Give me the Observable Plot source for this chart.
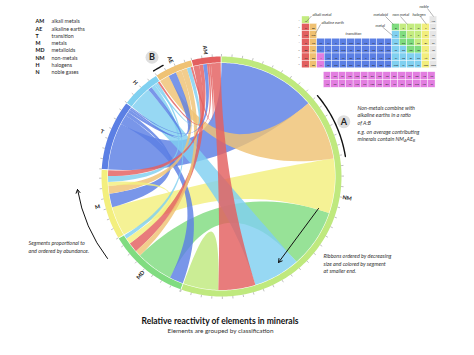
<!DOCTYPE html>
<html><head><meta charset="utf-8">
<script src="https://cdn.jsdelivr.net/npm/d3@7"></script>
<script src="https://cdn.jsdelivr.net/npm/@observablehq/plot@0.6"></script>
<style>body{margin:0;background:#fff;} #chart{width:474px;height:355px;}</style>
</head><body><div id="chart"></div>
<script>
// ---------- DATA ----------
const groups = ["NM","MD","M","T","H","AE","AM"];
const groupColors = ["#bfe97e","#80dc80","#f3ef7e","#5b7fe4","#80d0f0","#efc274","#e35f5f"];
// ribbons: group A, group B, width at A end, width at B end (units ~ degrees)
const ribbonA = ["NM","NM","NM","NM","NM","NM","NM","MD","MD","MD","MD","MD","M","M","M","M","T","T","T","H","H","AE"];
const ribbonB = ["T","AE","M","MD","H","AM","NM","T","AE","AM","M","H","T","AE","H","AM","AE","H","AM","AE","AM","AM"];
const widthA  = [50,31,28,30,24,19,18,7,3,5,3,2,7,4,3,3,1.5,1,0.5,1,1,1];
const widthB  = [24,5,15,19,12,5,18,5,3,3,2,1,2,3,2,2,4,2,2,2,1,1];
// clockwise order of ribbons inside each segment
const subgroupOrder = {
  NM: ["T","AE","M","MD","H","AM","NM"],
  MD: ["T","NM","AE","AM","M","H"],
  M:  ["NM","T","AE","MD","H","AM"],
  T:  ["NM","MD","M","AE","H","AM"],
  H:  ["NM","T","M","AE","MD","AM"],
  AE: ["NM","T","M","MD","H","AM"],
  AM: ["MD","M","T","H","AE","NM"]
};
const legendAbbr = ["AM","AE","T","M","MD","NM","H","N"];
const legendName = ["alkali metals","alkaline earths","transition","metals","metalloids","non-metals","halogens","noble gases"];
const noteA = ["Non-metals combine with","alkaline earths in a ratio","of A:B","e.g. on average contributing","minerals contain NM_A AE_B"];
const noteLeft = ["Segments proportional to","and ordered by abundance."];
const noteRight = ["Ribbons ordered by decreasing","size and colored by segment","at smaller end."];
const title = "Relative reactivity of elements in minerals";
const subtitle = "Elements are grouped by classification";
// periodic table
const ptRows = ["n................g","ae..........dnnnhg","ae..........mdnnhg","aettttttttttmddnhg","aettttttttttmmddhg","aelttttttttttmmmmhg".slice(0,3)+"tttttttttmmmmhg","ael"+"tttttttttmmmmhg"];
const ptSymbols = [
 "H . . . . . . . . . . . . . . . . He",
 "Li Be . . . . . . . . . . B C N O F Ne",
 "Na Mg . . . . . . . . . . Al Si P S Cl Ar",
 "K Ca Sc Ti V Cr Mn Fe Co Ni Cu Zn Ga Ge As Se Br Kr",
 "Rb Sr Y Zr Nb Mo Tc Ru Rh Pd Ag Cd In Sn Sb Te I Xe",
 "Cs Ba * Hf Ta W Re Os Ir Pt Au Hg Tl Pb Bi Po At Rn",
 "Fr Ra ** Rf Db Sg Bh Hs Mt Ds Rg Cn Uut Fl Uup Lv Uus Uuo"];
const lanthRows = ["La Ce Pr Nd Pm Sm Eu Gd Tb Dy Ho Er Tm Yb Lu","Ac Th Pa U Np Pu Am Cm Bk Cf Es Fm Md No Lr"];
const ptColors = {a:"#e26060",e:"#efc070",t:"#5b7fe4",m:"#80d0f0",d:"#7fdc7f",n:"#c4ec80",h:"#f2ee7c",g:"#e6e6e6",l:"#e27ee0"};
const ptLabels = ["alkali metal","alkaline earth","transition","metaloid","non metal","halogen","noble","metal"];

// ---------- LAYOUT ----------
const cx = 221, cy = 176, rIn = 113.5, ring0 = 114, ring1 = 120;
const deg = Math.PI/180;
const P = (a, r) => [cx + r*Math.sin(a*deg), cy - r*Math.cos(a*deg)];
const gIndex = g => groups.indexOf(g);
const totals = groups.map(g => d3.sum(ribbonA.map((a,i) => (a===g ? widthA[i] : 0) + (ribbonB[i]===g && a!==g ? widthB[i] : 0))));
const pad = 0.4;
const k = (360 - pad*groups.length)/d3.sum(totals);
const ends = {}; const groupArcs = [];
let ang = 0;
groups.forEach((g, gi) => {
  const start = ang;
  subgroupOrder[g].forEach(p => {
    const i = ribbonA.findIndex((a,j) => (a===g && ribbonB[j]===p) || (a===p && ribbonB[j]===g));
    if (ribbonA[i]===ribbonB[i]) { const w = widthA[i]*k; ends[i+"A"]=[ang,ang+w/2]; ends[i+"B"]=[ang+w/2,ang+w]; ang+=w; }
    else { const side = ribbonA[i]===g ? "A" : "B"; const w = (side==="A"?widthA:widthB)[i]*k; ends[i+side]=[ang,ang+w]; ang+=w; }
  });
  groupArcs.push({g, gi, start, end: ang});
  ang += pad;
});
const arcPts = (a0,a1,r) => { const n = Math.max(2, Math.ceil(Math.abs(a1-a0))); return d3.range(n+1).map(i => P(a0+(a1-a0)*i/n, r)); };
const quadPts = (p0,p1) => d3.range(1,30).map(i => { const t=i/30,u=1-t; return [u*u*p0[0]+2*u*t*cx+t*t*p1[0], u*u*p0[1]+2*u*t*cy+t*t*p1[1]]; });
const ribbonPts = [];
const ribbonIdx = d3.range(ribbonA.length).sort((i,j) => (widthA[j]+widthB[j]) - (widthA[i]+widthB[i]));
ribbonIdx.forEach(i => {
  const [s0,s1] = ends[i+"A"], [t0,t1] = ends[i+"B"];
  let cg;
  if (widthA[i] < widthB[i]) cg = ribbonA[i]; else if (widthB[i] < widthA[i]) cg = ribbonB[i];
  else cg = totals[gIndex(ribbonA[i])] < totals[gIndex(ribbonB[i])] ? ribbonA[i] : ribbonB[i];
  const color = groupColors[gIndex(cg)];
  const pts = [...arcPts(s0,s1,rIn), ...quadPts(P(s1,rIn),P(t0,rIn)), ...arcPts(t0,t1,rIn), ...quadPts(P(t1,rIn),P(s0,rIn))];
  pts.forEach(([x,y]) => ribbonPts.push({id:i, x, y, color}));
});
const ringPts = [];
groupArcs.forEach(d => {
  [...arcPts(d.start,d.end,ring1), ...arcPts(d.end,d.start,ring0)].forEach(([x,y]) => ringPts.push({id:d.g, x, y, color: groupColors[d.gi]}));
});
const ticks = [];
groupArcs.forEach(d => { for (let a = d.start; a <= d.end+0.01; a += 5*k) { const [x1,y1]=P(a,ring1),[x2,y2]=P(a,ring1+2.5); ticks.push({x1,y1,x2,y2}); } });
const labels = groupArcs.map(d => { const m=(d.start+d.end)/2; const [x,y]=P(m,127.5); return {x,y,text:d.g,rotate: m<180 ? m-90 : m-270}; });
// brackets A / B from the NM–AE ribbon ends
const iAE = 1;
const bracketPts = [];
[["A",ends[iAE+"A"]],["B",ends[iAE+"B"]]].forEach(([id,[a0,a1]]) => arcPts(a0,a1,125.5).forEach(([x,y]) => bracketPts.push({id,x,y})));
const markers = [["A",ends[iAE+"A"],134],["B",ends[iAE+"B"],138]].map(([t,[a0,a1],r]) => { const [x,y]=P((a0+a1)/2+ (t==="A"?0.5:0), r); return {x,y,t}; });

// periodic table cells
const cw = 7.5, rh = 7.4, px0 = 301.7, py0 = 16;
const cells = [];
ptRows.forEach((row, r) => { const syms = ptSymbols[r].split(" "); [...row].forEach((c, col) => { if (c !== ".") cells.push({x1:px0+col*cw, x2:px0+(col+1)*cw, y1:py0+r*rh, y2:py0+(r+1)*rh, fill:ptColors[c], s: syms[col]}); }); });
lanthRows.forEach((row, r) => row.split(" ").forEach((s, col) => cells.push({x1:323.3+col*7.45, x2:323.3+(col+1)*7.45, y1:71.7+r*7.8, y2:71.7+(r+1)*7.8, fill:ptColors.l, s})));
const ptLabelPos = [[312,14],[321,22.5],[345,33.5],[373,14.5],[392,14.5],[412,14.5],[419,6.5],[375,25]];
const ptLeaders = [[311,15.5,306,21],[320,24,315,33],null,[385,16,393,24],[400,16,407,24],[420,16,426,24],[427,8,433,16],[382,26.5,392,35]].filter(d=>d).map(([x1,y1,x2,y2])=>({x1,y1,x2,y2}));

const font = "Lato, 'Open Sans', sans-serif";
const chart = Plot.plot({
  width: 474, height: 355, margin: 0,
  x: {domain:[0,474], range:[0,474], axis:null},
  y: {domain:[0,355], range:[0,355], axis:null},
  color: {type:"identity"},
  style: {fontFamily: font, background:"#fff"},
  marks: [
    Plot.line(ribbonPts, {x:"x", y:"y", z:"id", fill:"color", fillOpacity:0.82, stroke:"none"}),
    Plot.line(ringPts, {x:"x", y:"y", z:"id", fill:"color", stroke:"none"}),
    Plot.link(ticks, {x1:"x1", y1:"y1", x2:"x2", y2:"y2", stroke:"#999", strokeWidth:0.6}),
    Plot.text(labels, {x:"x", y:"y", text:"text", rotate:"rotate", fontSize:5.5, fontWeight:"bold", fill:"#222"}),
    Plot.line(bracketPts, {x:"x", y:"y", z:"id", stroke:"#111", strokeWidth:1.4}),
    Plot.dot(markers, {x:"x", y:"y", r:6.5, fill:"#dedede", stroke:"none"}),
    Plot.text(markers, {x:"x", y:"y", text:"t", fontSize:9, fontWeight:"bold", fill:"#222"}),
    Plot.arrow([{x1:107,y1:258,x2:77,y2:189}], {x1:"x1",y1:"y1",x2:"x2",y2:"y2", bend:14, stroke:"#111", strokeWidth:1, headLength:6}),
    Plot.arrow([{x1:318,y1:208,x2:278,y2:262}], {x1:"x1",y1:"y1",x2:"x2",y2:"y2", stroke:"#111", strokeWidth:1, headLength:6}),
    // legend
    Plot.text(legendAbbr, {x:35, y:(d,i)=>21+i*7.3, text:d=>d, textAnchor:"start", fontSize:5.3, fontWeight:"bold", fill:"#111"}),
    Plot.text(legendName, {x:51, y:(d,i)=>21+i*7.3, text:d=>d, textAnchor:"start", fontSize:5.3, fill:"#333"}),
    // notes
    Plot.text(noteA, {x:357, y:(d,i)=>108+i*7.2+(i>=3?1.8:0), text:d=>d, textAnchor:"start", fontSize:5.4, fontStyle:"italic", fill:"#333"}),
    Plot.text(noteLeft, {x:28, y:(d,i)=>243+i*7.4, text:d=>d, textAnchor:"start", fontSize:5.4, fontStyle:"italic", fill:"#333"}),
    Plot.text(noteRight, {x:323, y:(d,i)=>256+i*7.5, text:d=>d, textAnchor:"start", fontSize:5.4, fontStyle:"italic", fill:"#333"}),
    Plot.text([title], {x:219.5, y:320, text:d=>d, fontSize:9.4, fontWeight:"bold", fill:"#111", className:"ttl"}),
    Plot.text([subtitle], {x:220, y:330.5, text:d=>d, fontSize:5.8, fill:"#333", className:"sub"}),
    // periodic table
    Plot.rect(cells, {x1:"x1", x2:"x2", y1:"y1", y2:"y2", fill:"fill", stroke:"#fff", strokeWidth:0.4}),
    Plot.text(cells, {x:d=>(d.x1+d.x2)/2, y:d=>(d.y1+d.y2)/2+0.5, text:"s", fontSize:2.6, fontWeight:"bold", fill:"#333"}),
    Plot.text(d3.range(1,8), {x:298.5, y:d=>py0+(d-0.5)*rh, text:d=>d, fontSize:2.6, fill:"#777"}),
    Plot.link(ptLeaders, {x1:"x1",y1:"y1",x2:"x2",y2:"y2", stroke:"#444", strokeWidth:0.4}),
    Plot.text(ptLabels, {x:(d,i)=>ptLabelPos[i][0], y:(d,i)=>ptLabelPos[i][1], text:d=>d, textAnchor:"start", fontSize:4, fontStyle:"italic", fill:"#333"})
  ]
});
document.getElementById("chart").appendChild(chart);
// condensed title widths like the reference
[["ttl",157],["sub",106]].forEach(([c,w]) => chart.querySelectorAll("g."+c+" text").forEach(t => { t.setAttribute("textLength", w); t.setAttribute("lengthAdjust","spacingAndGlyphs"); }));
// subscripts in the note
chart.querySelectorAll("text").forEach(t => {
  if (t.textContent.includes("NM_A AE_B")) {
    t.innerHTML = 'minerals contain NM<tspan dy="1.6" font-size="4">A</tspan><tspan dy="-1.6">AE</tspan><tspan dy="1.6" font-size="4">B</tspan>';
  }
});
</script></body></html>
